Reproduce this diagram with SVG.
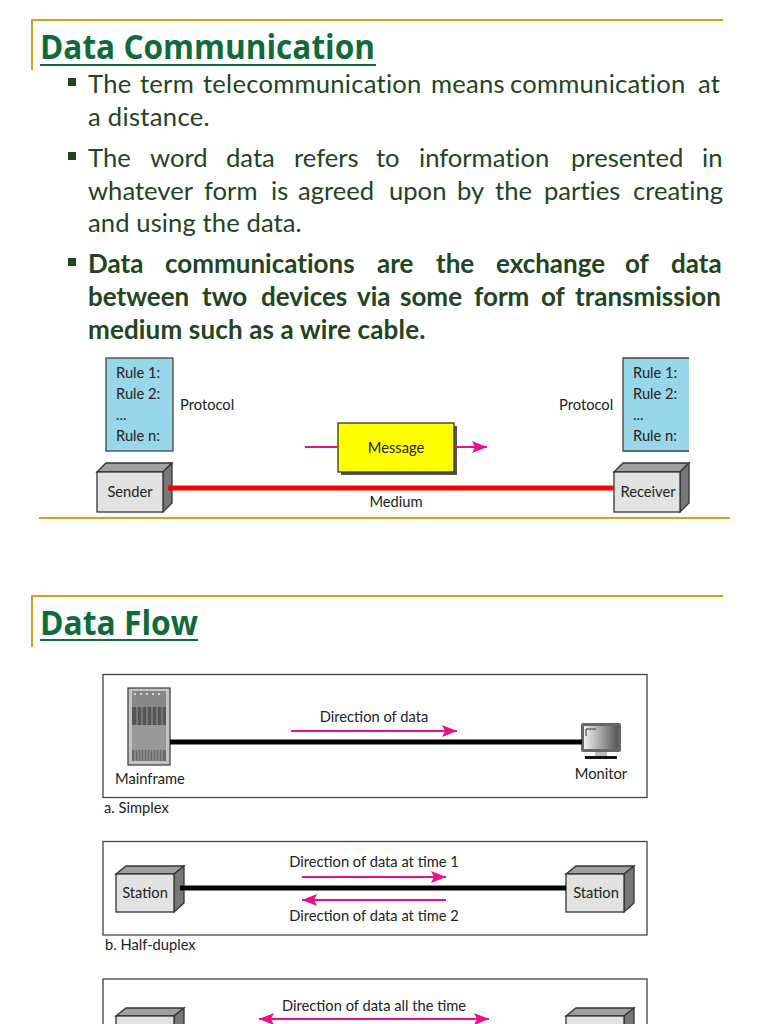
<svg xmlns="http://www.w3.org/2000/svg" width="768" height="1024" viewBox="0 0 768 1024">
<style>
.gold{stroke:#d8a017;stroke-width:2;fill:none}
.title{font:bold 34px "Open Sans","Liberation Sans",sans-serif;fill:#0f6b3c}
.body{font:25.6px "Lato","Open Sans",sans-serif;fill:#22441f;font-variant-ligatures:none}
.bold{font-weight:bold;font-size:26px}
.bul{fill:#22441f}
.lab{font:14.7px "Lato","Liberation Sans",sans-serif;fill:#222}
.mid{text-anchor:middle}
.front{fill:#e2e2e2;stroke:#333;stroke-width:1.3}
.top{fill:#a0a0a0;stroke:#333;stroke-width:1.3}
.side{fill:#777;stroke:#333;stroke-width:1.3}
.rule{fill:#98d6e9;stroke:#444;stroke-width:1.3}
.frame{fill:none;stroke:#444;stroke-width:1.3}
.pink{stroke:#ec0f86;stroke-width:2;fill:none}
.ph{fill:#ec0f86}
</style>
<defs>
<marker id="ah" markerUnits="userSpaceOnUse" markerWidth="15" markerHeight="12" refX="15" refY="6" orient="auto-start-reverse"><path d="M0 0L15 6L0 12L3 6Z" class="ph"/></marker>
<g id="box"><path class="top" d="M0 9L9 0H75L66 9Z"/><path class="side" d="M66 9L75 0V40L66 49Z"/><rect class="front" x="0" y="9" width="66" height="40"/></g>
<g id="stn"><path class="top" d="M0 8L10 0H68L58 8Z"/><path class="side" d="M58 8L68 0V37L58 46Z"/><rect class="front" x="0" y="8" width="58" height="38"/></g>
<linearGradient id="scr"><stop offset="0" stop-color="#f0f0f0"/><stop offset="1" stop-color="#555"/></linearGradient>
</defs>
<rect width="768" height="1024" fill="#fff"/>

<g id="section1">
<path class="gold" d="M32 70V20H723"/>
<path class="gold" d="M39 518H730"/>
<text class="title" x="40" y="59" textLength="335" lengthAdjust="spacingAndGlyphs">Data Communication</text>
<rect x="40" y="64" width="336" height="2" fill="#0f6b3c"/>
<g class="bul"><rect x="68" y="78" width="8" height="8"/><rect x="68" y="152" width="8" height="8"/><rect x="68" y="258" width="8" height="8"/></g>
<text class="body" y="93" letter-spacing="0.25"><tspan x="88">The</tspan><tspan x="140">term</tspan><tspan x="203">telecommunication</tspan><tspan x="431">means</tspan><tspan x="510">communication</tspan><tspan x="698">at</tspan></text>
<text class="body" x="88" y="126" letter-spacing="0.3">a distance.</text>
<text class="body" y="167"><tspan x="88">The</tspan><tspan x="150">word</tspan><tspan x="226">data</tspan><tspan x="294">refers</tspan><tspan x="376">to</tspan><tspan x="419">information</tspan><tspan x="571">presented</tspan><tspan x="702">in</tspan></text>
<text class="body" y="200"><tspan x="88">whatever</tspan><tspan x="204">form</tspan><tspan x="271">is</tspan><tspan x="298">agreed</tspan><tspan x="389">upon</tspan><tspan x="457">by</tspan><tspan x="495">the</tspan><tspan x="544">parties</tspan><tspan x="633">creating</tspan></text>
<text class="body" x="88" y="232" letter-spacing="0.1">and using the data.</text>
<text class="body bold" y="273"><tspan x="88">Data</tspan><tspan x="165">communications</tspan><tspan x="377">are</tspan><tspan x="436">the</tspan><tspan x="496">exchange</tspan><tspan x="625">of</tspan><tspan x="671">data</tspan></text>
<text class="body bold" y="306"><tspan x="88">between</tspan><tspan x="202">two</tspan><tspan x="261">devices</tspan><tspan x="357">via</tspan><tspan x="400">some</tspan><tspan x="474">form</tspan><tspan x="541">of</tspan><tspan x="575">transmission</tspan></text>
<text class="body bold" x="88" y="339" letter-spacing="0.15">medium such as a wire cable.</text>
</g>

<g id="rules-left"><rect class="rule" x="106" y="358" width="67" height="93"/>
<text class="lab" x="116" y="378">Rule 1:</text><text class="lab" x="116" y="399">Rule 2:</text><text class="lab" x="116" y="420">...</text><text class="lab" x="116" y="441">Rule n:</text></g>
<text class="lab" x="180" y="410">Protocol</text>
<g id="rules-right"><path d="M689 358H623V451H689Z" fill="#98d6e9"/><path d="M689 358H623V451H689" fill="none" stroke="#444" stroke-width="1.300"/>
<text class="lab" x="633" y="378">Rule 1:</text><text class="lab" x="633" y="399">Rule 2:</text><text class="lab" x="633" y="420">...</text><text class="lab" x="633" y="441">Rule n:</text></g>
<text class="lab" x="559" y="410">Protocol</text>
<g id="message"><rect x="341" y="426" width="116" height="49" fill="#555"/><rect x="338" y="423" width="116" height="49" fill="#ff0" stroke="#333" stroke-width="1.300"/><text class="lab mid" x="396" y="453">Message</text></g>
<g id="sender"><use href="#box" x="97" y="463"/><text class="lab mid" x="130" y="497">Sender</text></g>
<g id="receiver"><use href="#box" x="614" y="463"/><text class="lab mid" x="648" y="497">Receiver</text></g>
<text class="lab mid" x="396" y="507">Medium</text>

<g id="section2">
<path class="gold" d="M32 647V596H723"/>
<text class="title" x="40" y="635" textLength="158" lengthAdjust="spacingAndGlyphs">Data Flow</text>
<rect x="40" y="639" width="158" height="2" fill="#0f6b3c"/>
</g>

<g id="simplex">
<rect class="frame" x="103" y="674.500" width="544" height="123"/>
<text class="lab mid" x="374" y="722">Direction of data</text>
<text class="lab" x="115" y="784">Mainframe</text>
<text class="lab mid" x="601" y="779">Monitor</text>
<text class="lab" x="104" y="813">a. Simplex</text>
</g>
<g id="mainframe">
<rect x="128" y="688" width="42" height="77" fill="#c4c4c4" stroke="#444" stroke-width="1.300"/>
<rect x="132" y="691" width="34" height="16" fill="#888"/>
<rect x="132" y="707" width="34" height="18" fill="#555"/>
<path d="M137 707V725M142 707V725M147 707V725M152 707V725M157 707V725M162 707V725" stroke="#999" stroke-width="1"/>
<rect x="132" y="725" width="34" height="25" fill="#999"/>
<rect x="132" y="750" width="34" height="11" fill="#666"/>
<path d="M135 750V761M138 750V761M141 750V761M144 750V761M147 750V761M150 750V761M153 750V761M156 750V761M159 750V761M162 750V761" stroke="#aaa" stroke-width="1"/>
<path d="M134 694H164" stroke="#eee" stroke-width="1.500" stroke-dasharray="2 4"/>
</g>
<g id="monitor">
<rect x="581" y="723" width="40" height="29" rx="2" fill="#666"/>
<rect x="584" y="726" width="34" height="23" fill="url(#scr)"/>
<path d="M586 736V729H596" stroke="#333" fill="none"/>
<rect x="595" y="752" width="12" height="4" fill="#bbb"/>
<rect x="585" y="756" width="32" height="3" fill="#111"/>
</g>

<g id="half-duplex">
<rect class="frame" x="103" y="841.500" width="544" height="93.500"/>
<text class="lab mid" x="374" y="867">Direction of data at time 1</text>
<text class="lab mid" x="374" y="921">Direction of data at time 2</text>
<text class="lab" x="105" y="950">b. Half-duplex</text>
</g>
<g id="station-b1"><use href="#stn" x="116" y="866"/><text class="lab mid" x="145" y="898">Station</text></g>
<g id="station-b2"><use href="#stn" x="566" y="866"/><text class="lab mid" x="596" y="898">Station</text></g>

<g id="full-duplex">
<rect class="frame" x="103" y="979" width="544" height="60"/>
<text class="lab mid" x="374" y="1011">Direction of data all the time</text>
</g>
<g id="station-c1"><use href="#stn" x="116" y="1008"/></g>
<g id="station-c2"><use href="#stn" x="566" y="1008"/></g>

<g id="connectors">
<rect x="168" y="485.500" width="446" height="5" fill="#f00"/>
<path class="pink" d="M305 447H338"/>
<path class="pink" d="M455 447H487" marker-end="url(#ah)"/>
<rect x="170" y="739.500" width="412" height="5" fill="#000"/>
<path class="pink" d="M291 731H457" marker-end="url(#ah)"/>
<rect x="180" y="885.500" width="386" height="5" fill="#000"/>
<path class="pink" d="M302 877H446" marker-end="url(#ah)"/>
<path class="pink" d="M446 900H302" marker-end="url(#ah)"/>
<path class="pink" d="M259 1019H489" marker-start="url(#ah)" marker-end="url(#ah)"/>
</g>
</svg>
